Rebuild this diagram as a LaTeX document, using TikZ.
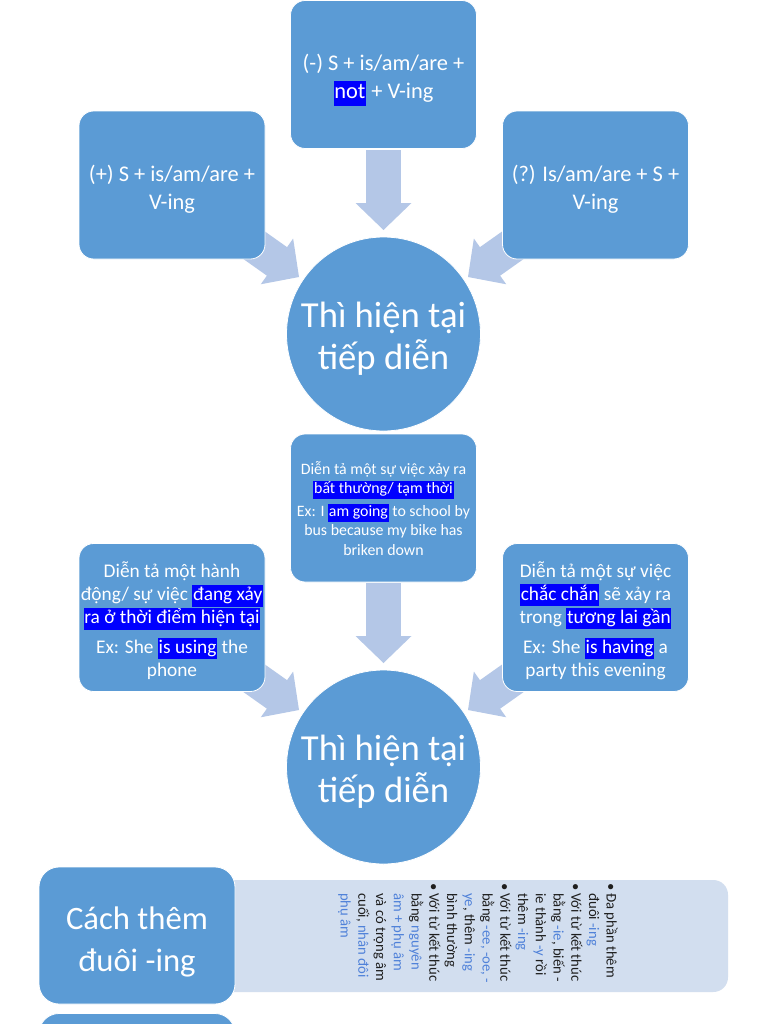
\documentclass[tikz,border=0pt]{standalone}
\usepackage{fontspec}
\setmainfont{Carlito}
\usetikzlibrary{calc}
\definecolor{boxblue}{HTML}{5B9BD5}
\definecolor{arrowblue}{HTML}{B4C7E7}
\definecolor{panelblue}{HTML}{D2DEEF}
\definecolor{hlblue}{HTML}{0000FF}
\definecolor{txtdark}{HTML}{1E1E1E}
\definecolor{txtblue}{HTML}{4F81D9}
\newcommand\hl[1]{{\setlength{\fboxsep}{0.6pt}\colorbox{hlblue}{\rule[-0.27em]{0pt}{1.02em}#1}}}
\newcommand\cl[1]{\textcolor{txtblue}{#1}}
\newcommand\bul{\makebox[7.5pt][l]{\textbullet}}
\newcommand\ind{\hspace*{7.5pt}}
\newcommand\blockarrow[3]{%
  \coordinate (#3h) at ($(#2)!20.25pt!(#1)$);
  \fill[arrowfill] ($(#1)!13.1pt!90:(#2)$) -- ($(#3h)!13.1pt!90:(#2)$) -- ($(#3h)!21pt!90:(#2)$) -- (#2)
    -- ($(#3h)!21pt!-90:(#2)$) -- ($(#3h)!13.1pt!-90:(#2)$) -- ($(#1)!13.1pt!-90:(#2)$) -- cycle;}
\tikzset{
  arrowfill/.style={fill=arrowblue},
  bbox/.style={rectangle, rounded corners=11pt, fill=boxblue, draw=white, line width=0.6pt,
    minimum width=139.5pt, minimum height=111pt},
  wtext/.style={text=white, align=center, inner sep=0pt},
  bigfont/.style={wtext, font=\fontsize{16.8}{21}\selectfont},
  smallfont/.style={wtext, font=\fontsize{11.9}{14.3}\selectfont},
  midfont/.style={wtext, font=\fontsize{14.5}{17.25}\selectfont},
  hub/.style={circle, fill=boxblue, draw=white, line width=0.6pt, minimum size=145.5pt, inner sep=0pt},
  hubfont/.style={wtext, font=\fontsize{27.5}{31.5}\selectfont},
  sidebox/.style={rectangle, rounded corners=15pt, fill=boxblue, draw=white, line width=0.6pt,
    minimum width=147pt, minimum height=102.75pt},
  sidefont/.style={wtext, font=\fontsize{24.5}{31.5}\selectfont},
  panel/.style={rectangle, rounded corners=11pt, fill=panelblue, minimum width=396pt, minimum height=84pt},
  rottext/.style={rotate=-90, align=left, inner sep=0pt, text=txtdark,
    font=\fontsize{11}{13.3}\selectfont}
}
\begin{document}
\begin{tikzpicture}[x=0.75pt,y=-0.75pt]
\clip (0,0) rectangle (768,1024);
\fill[white] (0,0) rectangle (768,1024);
% ---------- section 1 ----------
\coordinate (a1t) at (383.5,150); \coordinate (a1e) at (383.5,230);
\coordinate (a2t) at (234,231);   \coordinate (a2e) at (299,277);
\coordinate (a3t) at (533,231);   \coordinate (a3e) at (468,277);
\blockarrow{a1t}{a1e}{a1}
\blockarrow{a2t}{a2e}{a2}
\blockarrow{a3t}{a3e}{a3}
\node[bbox] (neg) at (383.5,74.5) {};
\node[bigfont] (negt) at ($(neg)+(0,5.5)$) {(-) S + is/am/are +\\\hl{not} + V-ing};
\node[bbox] (pos) at (172,185) {};
\node[bigfont] (post) at ($(pos)+(0,4)$) {(+) S + is/am/are +\\V-ing};
\node[bbox] (que) at (595.5,185) {};
\node[bigfont] (quet) at ($(que)+(0,4)$) {(?) Is/am/are + S +\\V-ing};
\node[hub] (hub1) at (383.5,334) {};
\node[hubfont] (hub1t) at ($(hub1)+(0,5)$) {Thì hiện tại\\tiếp diễn};
% ---------- section 2 ----------
\coordinate (b1t) at (383.5,583); \coordinate (b1e) at (383.5,663);
\coordinate (b2t) at (234,664);   \coordinate (b2e) at (299,710);
\coordinate (b3t) at (533,664);   \coordinate (b3e) at (468,710);
\blockarrow{b1t}{b1e}{b1}
\blockarrow{b2t}{b2e}{b2}
\blockarrow{b3t}{b3e}{b3}
\node[bbox] (use1) at (383.5,508) {};
\node[smallfont] (use1t) at ($(use1)+(0,0.5)$) {Diễn tả một sự việc xảy ra\\\hl{bất thường/ tạm thời}\\[3pt]Ex: I \hl{am going} to school by\\bus because my bike has\\briken down};
\node[bbox] (use2) at (172,617.5) {};
\node[midfont] (use2t) at ($(use2)+(0,3)$) {Diễn tả một hành\\động/ sự việc \hl{đang xảy}\\\hl{ra ở thời điểm hiện tại}\\[5pt]Ex: She \hl{is using} the\\phone};
\node[bbox] (use3) at (595.5,617.5) {};
\node[midfont] (use3t) at ($(use3)+(0,3)$) {Diễn tả một sự việc\\\hl{chắc chắn} sẽ xảy ra\\trong \hl{tương lai gần}\\[5pt]Ex: She \hl{is having} a\\party this evening};
\node[hub] (hub2) at (383.5,767) {};
\node[hubfont] (hub2t) at ($(hub2)+(0,5)$) {Thì hiện tại\\tiếp diễn};
% ---------- section 3 ----------
\node[panel] (pan) at (464,936) {};
\node[sidebox] (ing) at (137,935.5) {};
\node[sidefont] (ingt) at ($(ing)+(0,6)$) {Cách thêm\\đuôi -ing};
\node[sidebox] (next) at (137,1082) {};
\node[rottext, anchor=north west] (steps) at (618,883) {%
\bul Đa phần thêm\\
\ind đuôi \cl{-ing}\\
\bul Với từ kết thúc\\
\ind bằng \cl{-ie}, biến -\\
\ind ie thành \cl{-y} rồi\\
\ind thêm \cl{-ing}\\
\bul Với từ kết thúc\\
\ind bằng \cl{-ee, -oe, -}\\
\ind \cl{ye}, thêm \cl{-ing}\\
\ind bình thường\\
\bul Với từ kết thúc\\
\ind bằng \cl{nguyên}\\
\ind \cl{âm + phụ âm}\\
\ind và có trọng âm\\
\ind cuối, \cl{nhân đôi}\\
\ind \cl{phụ âm}};
\end{tikzpicture}
\end{document}
